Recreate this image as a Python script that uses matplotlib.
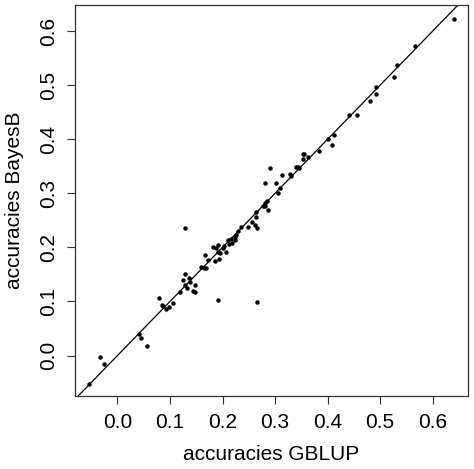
import matplotlib
matplotlib.use("Agg")
import matplotlib.pyplot as plt

gblup = [-0.054, -0.034, -0.025, 0.041, 0.044, 0.056, 0.080, 0.084, 0.086, 0.092, 0.098, 0.106,
         0.120, 0.129, 0.129, 0.125, 0.136, 0.129, 0.132, 0.138, 0.147, 0.144, 0.147, 0.192, 0.266,
         0.159, 0.166, 0.164, 0.169, 0.172, 0.181, 0.185, 0.188, 0.192, 0.192, 0.193, 0.195, 0.200,
         0.202, 0.207, 0.211, 0.212, 0.216, 0.219, 0.223, 0.224, 0.226, 0.230, 0.235, 0.248, 0.256,
         0.263, 0.263, 0.262, 0.265, 0.277, 0.280, 0.284, 0.281, 0.286, 0.281, 0.291, 0.301, 0.306,
         0.310, 0.314, 0.329, 0.330, 0.339, 0.344, 0.346, 0.353, 0.353, 0.356, 0.363, 0.384, 0.400,
         0.409, 0.413, 0.441, 0.456, 0.480, 0.492, 0.492, 0.527, 0.532, 0.566, 0.640]
bayesb = [-0.052, -0.002, -0.015, 0.040, 0.032, 0.017, 0.106, 0.094, 0.092, 0.086, 0.089, 0.098,
          0.118, 0.235, 0.151, 0.139, 0.144, 0.130, 0.125, 0.136, 0.131, 0.119, 0.118, 0.102, 0.099,
          0.163, 0.186, 0.161, 0.162, 0.176, 0.201, 0.174, 0.198, 0.205, 0.192, 0.179, 0.190, 0.199,
          0.203, 0.192, 0.214, 0.206, 0.216, 0.209, 0.214, 0.220, 0.223, 0.231, 0.238, 0.238, 0.247,
          0.266, 0.257, 0.241, 0.235, 0.277, 0.283, 0.285, 0.277, 0.269, 0.320, 0.347, 0.319, 0.301,
          0.310, 0.333, 0.335, 0.332, 0.348, 0.349, 0.347, 0.363, 0.373, 0.373, 0.367, 0.379, 0.400,
          0.390, 0.408, 0.444, 0.445, 0.471, 0.484, 0.497, 0.516, 0.537, 0.572, 0.622]
ticks = [0.0, 0.1, 0.2, 0.3, 0.4, 0.5, 0.6]

plt.rcParams['font.family'] = ['Liberation Sans', 'DejaVu Sans']
fig = plt.figure(figsize=(4.74, 4.69), dpi=100)
ax = fig.add_axes([0.158, 0.156, 0.829, 0.833])
ax.plot(gblup, bayesb, 'o', color='black', markersize=3.2, markeredgewidth=0)
ax.axline((0, 0), slope=1, color='black', linewidth=0.9)
ax.set_xlim(-0.081, 0.667)
ax.set_ylim(-0.0745, 0.648)
ax.set_xticks(ticks)
ax.set_yticks(ticks)
ax.set_xticklabels([f"{t:.1f}" for t in ticks])
ax.set_yticklabels([f"{t:.1f}" for t in ticks], rotation=90, va='center')
ax.tick_params(labelsize=15, length=6, width=0.8, color='#333333', pad=6)
ax.set_xlabel("accuracies GBLUP", fontsize=15, labelpad=10)
ax.set_ylabel("accuracies BayesB", fontsize=15, labelpad=11)
for s in ax.spines.values():
    s.set_linewidth(0.9)
    s.set_color('#333333')
fig.savefig("out.png", dpi=100)
